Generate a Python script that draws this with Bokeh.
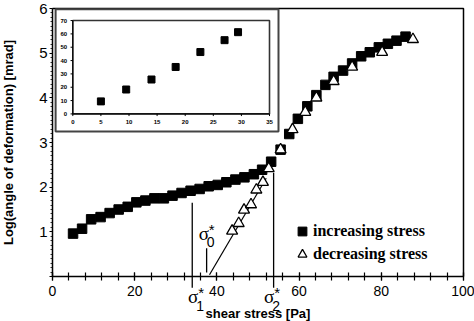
import numpy as np
from bokeh.plotting import figure
from bokeh.models import (Range1d, SingleIntervalTicker, Label, Legend,
                          LegendItem)
from bokeh.embed import file_html
from bokeh.resources import INLINE

# ---------------- data ----------------
inc_x = [5.0, 7.2, 9.4, 11.7, 13.9, 16.1, 18.3, 20.4, 22.6, 24.8, 27.1, 29.2,
         31.4, 33.6, 35.8, 38.0, 40.2, 42.3, 44.5, 46.7, 49.0, 51.0, 53.2,
         55.5, 57.6, 59.7, 62.0, 64.2, 66.4, 68.4, 70.7, 72.9, 75.1, 77.2,
         79.4, 81.6, 83.7, 85.9]
inc_y = [0.96, 1.07, 1.28, 1.33, 1.42, 1.50, 1.56, 1.66, 1.70, 1.75, 1.75,
         1.81, 1.87, 1.92, 1.96, 2.02, 2.05, 2.11, 2.17, 2.22, 2.29, 2.39,
         2.57, 2.84, 3.19, 3.53, 3.81, 4.06, 4.29, 4.47, 4.61, 4.77, 4.93,
         5.02, 5.13, 5.21, 5.28, 5.37]
dec_x = [43.7, 45.3, 46.6, 48.3, 49.6, 51.2, 52.6, 55.5, 58.4, 61.5, 64.2,
         68.4, 72.9, 80.2, 87.7]
dec_y = [1.02, 1.19, 1.49, 1.61, 1.94, 2.11, 2.42, 2.84, 3.29, 3.68, 4.00,
         4.37, 4.69, 5.02, 5.31]
fit_x = [38.2, 52.0]
fit_y = [0.04, 2.20]

sigma_names = ["0", "1", "2"]
sigma_x = [37.5, 34.0, 53.8]
sigma_top = [0.63, 1.65, 2.32]
sigma_bottom = [0.09, -0.25, -0.25]

inset_x = [5.0, 9.5, 14.0, 18.3, 22.7, 27.0, 29.4]
inset_y = [9.4, 18.3, 25.8, 35.2, 46.4, 55.3, 61.3]
inset_xticks = [0, 5, 10, 15, 20, 25, 30, 35]
inset_yticks = [0, 10, 20, 30, 40, 50, 60, 70]

legend_labels = ["increasing stress", "decreasing stress"]

# ---------------- main figure ----------------
# The frame covers the whole canvas; both axes are pinned at 0 so that the
# sigma marks below the x axis and the tick labels are not clipped.
W, H = 474, 321
LEFT_PX, RIGHT_PX = 52, 463      # canvas px of x = 0 and x = 100
TOP_PX, ZERO_PX = 8, 276         # canvas px of y = 6 and y = 0
xu = (RIGHT_PX - LEFT_PX) / 100.0
yu = (ZERO_PX - TOP_PX) / 6.0
x_rng = Range1d(-LEFT_PX / xu, (W - LEFT_PX) / xu)
y_rng = Range1d(-(H - ZERO_PX) / yu, 6 + TOP_PX / yu)

p = figure(width=W, height=H, output_backend="svg", toolbar_location=None,
           x_range=x_rng, y_range=y_rng,
           min_border_left=0, min_border_right=0, min_border_top=0,
           min_border_bottom=0)
p.background_fill_color = "white"
p.border_fill_color = "white"
p.outline_line_color = None
p.xgrid.visible = False
p.ygrid.visible = False

p.xaxis.ticker = SingleIntervalTicker(interval=20, num_minor_ticks=5)
p.yaxis.ticker = SingleIntervalTicker(interval=1, num_minor_ticks=10)
p.yaxis.major_label_overrides = {0: ""}
p.xaxis.fixed_location = 0
p.yaxis.fixed_location = 0
p.xaxis.bounds = (0, 100)
p.yaxis.bounds = (0, 6)

for ax in (p.xaxis, p.yaxis):
    ax.axis_line_color = "black"
    ax.axis_line_width = 1.5
    ax.major_tick_line_color = "black"
    ax.minor_tick_line_color = "black"
    ax.major_label_text_font = "Liberation Sans"
    ax.major_label_text_color = "black"
    ax.axis_label_text_font = "Liberation Sans"
    ax.axis_label_text_font_style = "bold"
    ax.axis_label_text_font_size = "13px"
    ax.axis_label_text_color = "black"

p.xaxis.major_tick_in = 4
p.xaxis.major_tick_out = 4
p.xaxis.minor_tick_in = 4
p.xaxis.minor_tick_out = 4
p.xaxis.major_tick_line_width = 1.2
p.xaxis.minor_tick_line_width = 1.2
p.xaxis.major_label_text_font_size = "14px"
p.xaxis.major_label_standoff = 5
p.xaxis.axis_label = "shear stress [Pa]"
p.xaxis.axis_label_standoff = 7

p.yaxis.major_tick_in = 0
p.yaxis.major_tick_out = 3
p.yaxis.minor_tick_in = 0
p.yaxis.minor_tick_out = 2
p.yaxis.minor_tick_line_width = 0.8
p.yaxis.major_label_text_font_size = "15px"
p.yaxis.major_label_standoff = 2
p.yaxis.axis_label = "Log(angle of deformation) [mrad]"
p.yaxis.axis_label_standoff = 20

# plot box (top and right edges)
p.line(x=[0, 100, 100], y=[6, 6, 0], line_color="black", line_width=1.5)

# data marks
r_inc = p.scatter(inc_x, inc_y, marker="square", size=9.5,
                  fill_color="black", line_color="black")
p.line(fit_x, fit_y, line_color="black", line_width=1.2)
r_dec = p.scatter(dec_x, dec_y, marker="triangle", size=11,
                  fill_color="white", line_color="black", line_width=1.3)

# sigma markers (lines + labels)
sigma_label_pos = {"0": (36.8, 0.97), "1": (34.2, -0.45), "2": (52.7, -0.45)}
for name, sx, st, sb in zip(sigma_names, sigma_x, sigma_top, sigma_bottom):
    p.segment(x0=[sx], y0=[sb], x1=[sx], y1=[st], line_color="black",
              line_width=1.3)
    lx, ly = sigma_label_pos[name]
    p.add_layout(Label(x=lx, y=ly, text="σ", text_font="Liberation Serif",
                       text_font_size="19px", text_align="center",
                       text_baseline="middle", text_color="black"))
    p.add_layout(Label(x=lx, y=ly, x_offset=8, y_offset=4, text="*",
                       text_font="Liberation Sans", text_font_size="15px",
                       text_align="center", text_baseline="middle",
                       text_color="black"))
    p.add_layout(Label(x=lx, y=ly, x_offset=7, y_offset=-9, text=name,
                       text_font="Liberation Sans", text_font_size="14px",
                       text_align="center", text_baseline="middle",
                       text_color="black"))

# legend
legend = Legend(items=[LegendItem(label=legend_labels[0], renderers=[r_inc]),
                       LegendItem(label=legend_labels[1], renderers=[r_dec])],
                location=(LEFT_PX + 239, (H - ZERO_PX) + 11),
                orientation="vertical",
                border_line_alpha=0, background_fill_alpha=0,
                padding=0, margin=0, spacing=1,
                glyph_width=22, glyph_height=22, label_height=22,
                label_standoff=0,
                label_text_font="Liberation Serif",
                label_text_font_style="bold",
                label_text_font_size="16px", label_text_color="black")
p.add_layout(legend)

# ---------------- inset (sub-coordinates) ----------------
ins = p.subplot(x_source=Range1d(0, 35), y_source=Range1d(0, 70),
                x_target=Range1d(4.94, 52.8), y_target=Range1d(3.64, 5.73))
ins.quad(left=[-3.06], right=[36.6], bottom=[-13.2], top=[78.5],
         fill_color="white", line_color="#444444", line_width=2)
ins.quad(left=[inset_xticks[0]], right=[inset_xticks[-1]],
         bottom=[inset_yticks[0]], top=[inset_yticks[-1]],
         fill_color="white", line_color="#333333", line_width=1.6)
ins.segment(x0=[inset_xticks[0]], y0=[inset_yticks[0]],
            x1=[inset_xticks[0]], y1=[inset_yticks[-1]],
            line_color="black", line_width=1)
ins.segment(x0=[inset_xticks[0]], y0=[inset_yticks[0]],
            x1=[inset_xticks[-1]], y1=[inset_yticks[0]],
            line_color="black", line_width=1)
ins.segment(x0=inset_xticks, y0=[0] * len(inset_xticks),
            x1=inset_xticks, y1=[-1.6] * len(inset_xticks),
            line_color="black", line_width=1)
ins.segment(x0=[0] * len(inset_yticks), y0=inset_yticks,
            x1=[-0.4] * len(inset_yticks), y1=inset_yticks,
            line_color="black", line_width=1)
ins.text(x=inset_xticks, y=[-6.0] * len(inset_xticks),
         text=[str(t) for t in inset_xticks], text_font_size="6px",
         text_font_style="bold", text_align="center", text_baseline="middle",
         text_color="black")
ins.text(x=[-1.0] * len(inset_yticks), y=inset_yticks,
         text=[str(t) for t in inset_yticks], text_font_size="6px",
         text_font_style="bold", text_align="right", text_baseline="middle",
         text_color="black")
ins.scatter(inset_x, inset_y, marker="square", size=7,
            fill_color="black", line_color="black")

open("out.html", "w").write(file_html(p, INLINE))
